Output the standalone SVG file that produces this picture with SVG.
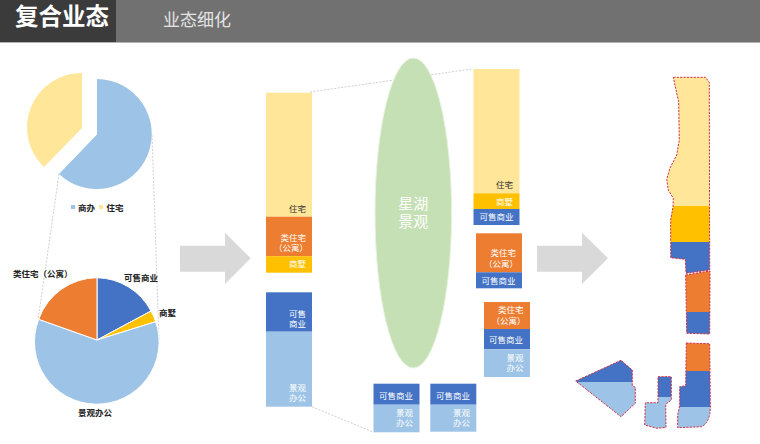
<svg xmlns="http://www.w3.org/2000/svg" width="760" height="444" viewBox="0 0 760 444">
<style>
text{font-family:"Noto Sans CJK SC","Noto Sans",sans-serif}
.w{fill:#fff;font-size:8.5px;text-anchor:end}
.wm{fill:#fff;font-size:8.5px;text-anchor:middle}
.k{fill:#333;font-size:8.5px;text-anchor:end}
.b{fill:#222;font-size:8.5px;font-weight:700}
.lead{fill:none;stroke:#cfcfcf;stroke-width:1;stroke-dasharray:2 1.5}
.site{stroke:#cf3049;stroke-width:1;stroke-dasharray:2.2 1.2}
.y{fill:#ffe699}.o{fill:#ed7d31}.g{fill:#ffc000}.n{fill:#4472c4}.l{fill:#9dc3e6}
.arrow{fill:#d9d9d9}
</style>
<defs>
<linearGradient id="s1" gradientUnits="userSpaceOnUse" x1="0" x2="0" y1="77" y2="273">
<stop offset="0.66" stop-color="#ffe699"/><stop offset="0.66" stop-color="#ffc000"/><stop offset="0.84" stop-color="#ffc000"/><stop offset="0.84" stop-color="#4472c4"/></linearGradient>
<linearGradient id="s2" gradientUnits="userSpaceOnUse" x1="0" x2="0" y1="271" y2="334">
<stop offset="0.65" stop-color="#ed7d31"/><stop offset="0.65" stop-color="#4472c4"/></linearGradient>
<linearGradient id="s3" gradientUnits="userSpaceOnUse" x1="0" x2="0" y1="360" y2="417">
<stop offset="0.39" stop-color="#4472c4"/><stop offset="0.39" stop-color="#9dc3e6"/></linearGradient>
<linearGradient id="s4" gradientUnits="userSpaceOnUse" x1="0" x2="0" y1="376" y2="429">
<stop offset="0.39" stop-color="#4472c4"/><stop offset="0.39" stop-color="#9dc3e6"/></linearGradient>
<linearGradient id="s5" gradientUnits="userSpaceOnUse" x1="0" x2="0" y1="343" y2="428">
<stop offset="0.325" stop-color="#ed7d31"/><stop offset="0.325" stop-color="#4472c4"/><stop offset="0.75" stop-color="#4472c4"/><stop offset="0.75" stop-color="#9dc3e6"/></linearGradient>
</defs>

<g id="header">
<rect x="0" y="0" width="760" height="42" fill="#717171"/>
<rect x="0" y="0" width="116" height="42" fill="#3b3b3b"/>
<rect x="0" y="42" width="760" height="1" fill="#b4b4b4"/>
<text x="15" y="25" fill="#fff" font-size="23.500" font-weight="700">复合业态</text>
<text x="163" y="26" fill="#e4e4e4" font-size="17">业态细化</text>
</g>

<g id="connectors">
<path class="lead" d="M59 174L38 320"/>
<path class="lead" d="M152 135L159 340"/>
<path class="lead" d="M310 92L472 69"/>
<path class="lead" d="M312 406.700L373 432"/>
</g>

<g id="pie-top">
<path class="l" d="M97 134.500L97 79A55 55 0 1 1 59 174Z"/>
<path class="y" d="M82 128L82 73A54.500 54.500 0 0 0 44 167Z"/>
<rect x="71" y="205" width="4" height="4" fill="#9dc3e6"/>
<text class="b" x="78" y="210.500">商办</text>
<rect x="99" y="205" width="4" height="4" fill="#ffe699"/>
<text class="b" x="106.500" y="210.500">住宅</text>
</g>

<g id="pie-bottom" stroke="#fff" stroke-width="1">
<path class="n" d="M97 340L97 277.700A62.300 62.300 0 0 1 151 311Z"/>
<path class="g" d="M97 340L151 311A62.300 62.300 0 0 1 155.700 321.700Z"/>
<path class="l" d="M97 340L155.700 321.700A62.300 62.300 0 1 1 38.700 319.300Z"/>
<path class="o" d="M97 340L38.700 319.300A62.300 62.300 0 0 1 97 277.700Z"/>
</g>
<g id="pie-bottom-labels">
<text class="b" x="13" y="277">类住宅（公寓）</text>
<text class="b" x="124" y="280.500">可售商业</text>
<text class="b" x="159" y="315.500">商墅</text>
<text class="b" x="78" y="416">景观办公</text>
</g>

<path id="arrow-left" class="arrow" d="M180 245.700H225V232.700L250.700 258.300L225 284V271.700H180Z"/>
<path id="arrow-right" class="arrow" d="M537 245.700H582V232.700L608 258.300L582 284V271.700H537Z"/>

<g id="col-left-upper">
<rect class="y" x="266" y="92.700" width="46" height="124"/>
<rect class="o" x="266" y="216.700" width="46" height="39.500"/>
<rect class="g" x="266" y="256.200" width="46" height="16.500"/>
<text class="k" x="306" y="212">住宅</text>
<text class="w"><tspan x="306" y="240.500">类住宅</tspan><tspan x="308" y="251">（公寓）</tspan></text>
<text class="w" x="306" y="266.500">商墅</text>
</g>
<g id="col-left-lower">
<rect class="n" x="266" y="292.300" width="46" height="39.400"/>
<rect class="l" x="266" y="331.700" width="46" height="75"/>
<text class="w"><tspan x="306" y="316.500">可售</tspan><tspan x="306" y="326.500">商业</tspan></text>
<text class="w"><tspan x="306" y="391">景观</tspan><tspan x="306" y="401">办公</tspan></text>
</g>

<g id="lake">
<ellipse cx="413.300" cy="213" rx="38.300" ry="155" fill="#c5e0b4" stroke="#e8f3e1" stroke-width="1"/>
<text fill="#fff" font-size="15" text-anchor="middle"><tspan x="413.300" y="209">星湖</tspan><tspan x="413.300" y="227">景观</tspan></text>
</g>

<g id="col-right-1">
<rect class="y" x="473.500" y="69" width="46" height="124.300"/>
<rect class="g" x="473.500" y="193.300" width="46" height="15.700"/>
<rect class="n" x="473.500" y="209" width="46" height="16"/>
<text class="k" x="513" y="188">住宅</text>
<text class="w" x="513" y="204.500">商墅</text>
<text class="wm" x="496.500" y="220">可售商业</text>
</g>
<g id="col-right-2">
<rect class="o" x="476" y="233.300" width="46" height="39"/>
<rect class="n" x="476" y="272.300" width="46" height="16"/>
<text class="w"><tspan x="516" y="256">类住宅</tspan><tspan x="518" y="267">（公寓）</tspan></text>
<text class="wm" x="498.500" y="283.500">可售商业</text>
</g>
<g id="col-right-3">
<rect class="o" x="484" y="302" width="46" height="27"/>
<rect class="n" x="484" y="329" width="46" height="20.300"/>
<rect class="l" x="484" y="349.300" width="46" height="27.700"/>
<text class="w"><tspan x="523.500" y="313">类住宅</tspan><tspan x="525.500" y="323.500">（公寓）</tspan></text>
<text class="wm" x="506" y="343">可售商业</text>
<text class="w"><tspan x="523.500" y="361">景观</tspan><tspan x="523.500" y="371">办公</tspan></text>
</g>
<g id="block-a">
<rect class="n" x="373.500" y="383.700" width="46" height="21"/>
<rect class="l" x="373.500" y="404.700" width="46" height="27.600"/>
<text class="wm" x="396" y="399">可售商业</text>
<text class="w"><tspan x="413" y="416">景观</tspan><tspan x="413" y="426">办公</tspan></text>
</g>
<g id="block-b">
<rect class="n" x="430.300" y="383.700" width="46" height="21"/>
<rect class="l" x="430.300" y="404.700" width="46" height="27"/>
<text class="wm" x="453" y="399">可售商业</text>
<text class="w"><tspan x="470" y="416">景观</tspan><tspan x="470" y="426">办公</tspan></text>
</g>

<g id="site-north">
<path class="site" fill="url(#s1)" d="M673.300 77.300L705.700 77.300L709.300 82.700L709.700 270L686 273.300L685.300 259.300L670.700 257.700L670.700 220L673 206.700L673.300 198.300L668.300 190L666.700 179.300L670 168L676.700 155L679.300 140L678.700 101.700L676 90Z"/>
<path class="site" fill="url(#s2)" d="M685.700 275L710 271L709.700 334L686.700 333.300Z"/>
</g>
<g id="site-south">
<path class="site" fill="url(#s3)" d="M575.700 381L621 360.300L632.300 370L632.300 385.700L635.300 387.300L635.300 403.300L621 416.700Z"/>
<path class="site" fill="url(#s4)" d="M658 376.700L671.300 376.700L671.300 400L665.700 404.300L666 427.300L656.700 428.300L644.700 425L645.300 402.700L658 402.700Z"/>
<path class="site" fill="url(#s5)" d="M686.300 343L709.700 343.700L710.300 408.300Q710 422 701.700 426.700L677.700 427.700L677.700 415L679.700 405L679.700 386.700L685.700 385.700Z"/>
</g>
</svg>
